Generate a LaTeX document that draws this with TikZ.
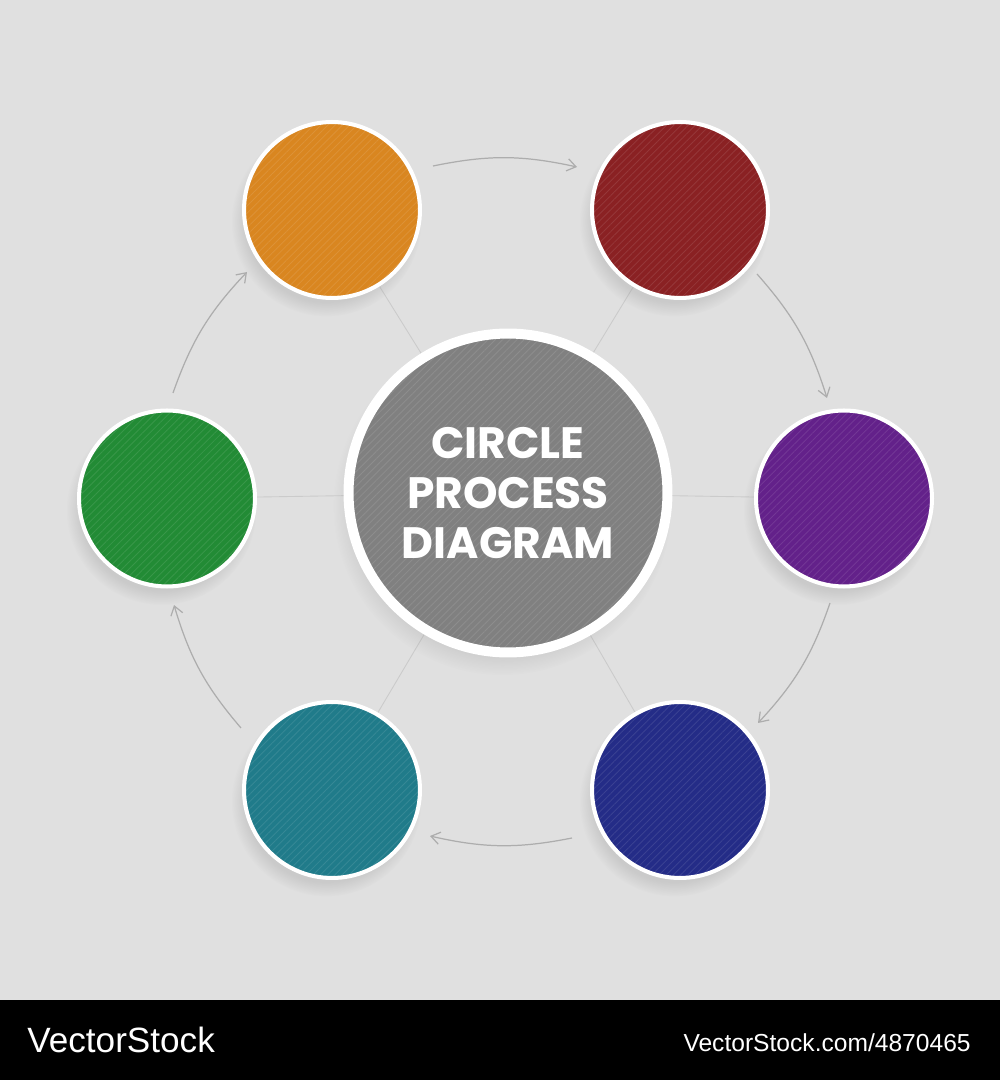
\documentclass[tikz,border=0pt]{standalone}
\usepackage{fontspec}
\newfontfamily\titlefont{Poppins}
\newfontfamily\markfont{Liberation Sans}
\usetikzlibrary{arrows.meta,shadows,patterns.meta,backgrounds}
\definecolor{bgcol}{HTML}{E0E0E0}
\definecolor{arrowcol}{HTML}{ADADAD}
\definecolor{spokecol}{HTML}{CBCBCB}
\definecolor{hubcol}{HTML}{808080}
\definecolor{orngcol}{HTML}{D98620}
\definecolor{redcol}{HTML}{8A2123}
\definecolor{purpcol}{HTML}{63218A}
\definecolor{navycol}{HTML}{242C87}
\definecolor{tealcol}{HTML}{207B8A}
\definecolor{grncol}{HTML}{228B35}
\begin{document}
\begin{tikzpicture}[x=0.02cm,y=0.02cm,
  stripes/.style={fill=#1, postaction={pattern={Lines[angle=45,distance=2.9pt,line width=0.5pt]},
    pattern color=#1!90!white}},
  bubble/.style={circle, inner sep=0pt, minimum size=3.52cm,
    circular drop shadow={shadow xshift=-3pt, shadow yshift=-6pt, shadow scale=1.08, opacity=0.22},
    stripes=#1, postaction={draw=white, line width=2.3pt}},
  hubnode/.style={circle, inner sep=0pt, minimum size=6.38cm,
    text=white, align=center,
    font=\titlefont\bfseries\fontsize{25}{28.5}\selectfont,
    circular drop shadow={shadow xshift=-3pt, shadow yshift=-7pt, shadow scale=1.06, opacity=0.22},
    stripes=hubcol, postaction={draw=white, line width=5.7pt}},
  flow/.style={draw=arrowcol, line width=0.7pt, -{Straight Barb[length=5pt,width=7pt]}, bend left=12},
  spoke/.style={draw=spokecol, line width=0.5pt}]
  \useasboundingbox (0,0) rectangle (1000,1080);

  % centre and the six steps
  \node[hubnode] (hub) at (508,587) {CIRCLE\\PROCESS\\DIAGRAM};
  \foreach \nm/\px/\py/\col in {orng/332/870/orngcol, red/680/870/redcol,
      purp/844/581.5/purpcol, navy/680/290/navycol,
      teal/332/290/tealcol, grn/167/581.5/grncol} {
    \node[bubble=\col] (\nm) at (\px,\py) {};
  }

  % clockwise arrows
  \foreach \i/\sx/\sy/\ex/\ey in {1/433/914/577/913, 2/757/806/827/682,
      3/830/477/758/357, 4/572/242/430/244,
      5/241/352/174/475, 6/173/687/247/808} {
    \coordinate (s\i) at (\sx,\sy);
    \coordinate (e\i) at (\ex,\ey);
    \draw[flow] (s\i) to (e\i);
  }

  % footer
  \node[font=\markfont\fontsize{20}{24}\selectfont, text=white, anchor=base west, inner sep=0pt]
    (brand) at (27,28) {VectorStock};
  \node[font=\markfont\fontsize{14}{17}\selectfont, text=white, anchor=base east, inner sep=0pt]
    (link) at (971,29) {VectorStock.com/4870465};

  \begin{scope}[on background layer]
    \fill[bgcol] (0,80) rectangle (1000,1080);
    \fill[black] (0,0) rectangle (1000,80);
    \foreach \nm in {orng,red,purp,navy,teal,grn} {
      \draw[spoke] (hub) -- (\nm);
    }
  \end{scope}
\end{tikzpicture}
\end{document}
